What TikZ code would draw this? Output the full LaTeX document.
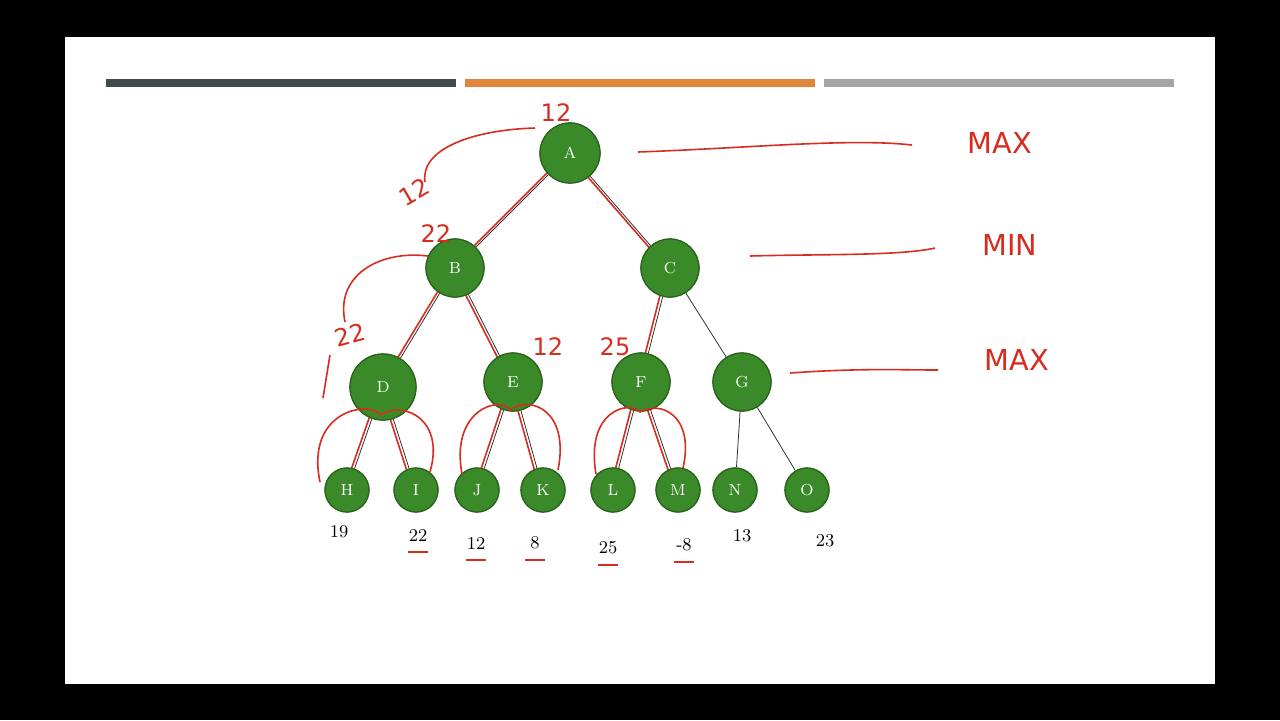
\documentclass[tikz,border=0pt]{standalone}
\usepackage{fontspec}
\newfontfamily\hand{DejaVu Sans}
\begin{document}
\begin{tikzpicture}[x=0.5pt,y=-0.5pt,
  tn/.style={circle,fill=treegreen,draw=treegreen!70!black,line width=0.6pt,text=white,font=\footnotesize,inner sep=0pt},
  big/.style={minimum size=30pt},
  mid/.style={minimum size=29pt},
  leaf/.style={minimum size=22pt},
  ed/.style={draw=black!80,line width=0.4pt},
  rd/.style={draw=annred,line width=0.8pt},
  rt/.style={text=annred,font=\hand\large},
  val/.style={font=\small}]
\definecolor{treegreen}{RGB}{58,138,42}
\definecolor{annred}{RGB}{214,45,32}
\definecolor{bar1}{RGB}{64,74,76}
\definecolor{bar2}{RGB}{224,135,59}
\definecolor{bar3}{RGB}{165,165,165}
\fill[black] (0,0) rectangle (1280,720);
\fill[white] (65,37) rectangle (1215,684);
\useasboundingbox (0,0) rectangle (1280,720);
\fill[bar1] (106,79) rectangle (456,87);
\fill[bar2] (465,79) rectangle (815,87);
\fill[bar3] (824,79) rectangle (1174,87);
\node[tn,big] (A) at (570,153) {A};
\node[tn,mid] (B) at (455,268) {B};
\node[tn,mid] (C) at (670,268) {C};
\node[tn,minimum size=33pt] (D) at (383,387) {D};
\node[tn,mid] (E) at (513,382) {E};
\node[tn,mid] (F) at (641,382) {F};
\node[tn,mid] (G) at (742,382) {G};
\foreach \n/\x in {H/347,I/416,J/477,K/543,L/613,M/678,N/735,O/807}
  \node[tn,leaf] (\n) at (\x,490) {\n};
\foreach \a/\b in {A/B,A/C,B/D,B/E,C/F,C/G,D/H,D/I,E/J,E/K,F/L,F/M,G/N,G/O}
  \draw[ed] (\a) -- (\b);
\foreach \a/\b in {A/B,A/C,B/D,B/E,C/F,D/H,D/I,E/J,E/K,F/L,F/M}
  \draw[rd] ([xshift=-1.5pt]\a.center) -- ([xshift=-1.5pt]\b.center);
\foreach \n/\s in {A/30,B/29,C/29,D/33,E/29,F/29,G/29}
  \node[tn,minimum size=\s pt] at (\n) {\n};
\foreach \n in {H,I,J,K,L,M,N,O}
  \node[tn,leaf] at (\n) {\n};
\node[val] (vH) at (339,532) {19};
\node[val] (vI) at (418,535) {22};
\node[val] (vJ) at (476,543) {12};
\node[val] (vK) at (535,543) {8};
\node[val] (vL) at (608,548) {25};
\node[val] (vM) at (684,545) {-8};
\node[val] (vN) at (742,536) {13};
\node[val] (vO) at (825,541) {23};
\foreach \v in {vI,vJ,vK,vL,vM}
  \draw[rd,line width=1.2pt] ([yshift=-2pt,xshift=-5pt]\v.south) -- ([yshift=-2pt,xshift=5pt]\v.south);
% annotations
\node[rt] (a1) at (556,113) {12};
\node[rt,rotate=30] (a2) at (414,192) {12};
\node[rt] (a3) at (436,234) {22};
\node[rt,rotate=15] (a4) at (350,335) {22};
\node[rt] (a5) at (548,347) {12};
\node[rt] (a6) at (615,347) {25};
\draw[rd] (535,128) .. controls (470,130) and (420,150) .. (425,182);
\draw[rd] (428,256) .. controls (380,250) and (335,275) .. (345,322);
\draw[rd] (330,355) -- (323,398);
\draw[rd] (320,482) .. controls (305,410) and (370,400) .. (380,415) .. controls (405,400) and (445,420) .. (430,472);
\draw[rd] (462,474) .. controls (450,410) and (500,395) .. (510,410) .. controls (530,395) and (570,410) .. (558,470);
\draw[rd] (596,474) .. controls (585,410) and (630,400) .. (640,412) .. controls (660,400) and (695,415) .. (683,468);
% level labels
\coordinate (m1) at (912,145);
\coordinate (m2) at (935,248);
\coordinate (m3) at (938,370);
\draw[rd] (638,152) .. controls (750,148) and (850,138) .. (m1);
\draw[rd] (750,256) .. controls (820,254) and (900,256) .. (m2);
\draw[rd] (790,373) .. controls (860,368) and (900,370) .. (m3);
\node[rt,font=\hand\Large] (L1) at (1000,143) {MAX};
\node[rt,font=\hand\Large] (L2) at (1010,245) {MIN};
\node[rt,font=\hand\Large] (L3) at (1017,360) {MAX};
\end{tikzpicture}
\end{document}
